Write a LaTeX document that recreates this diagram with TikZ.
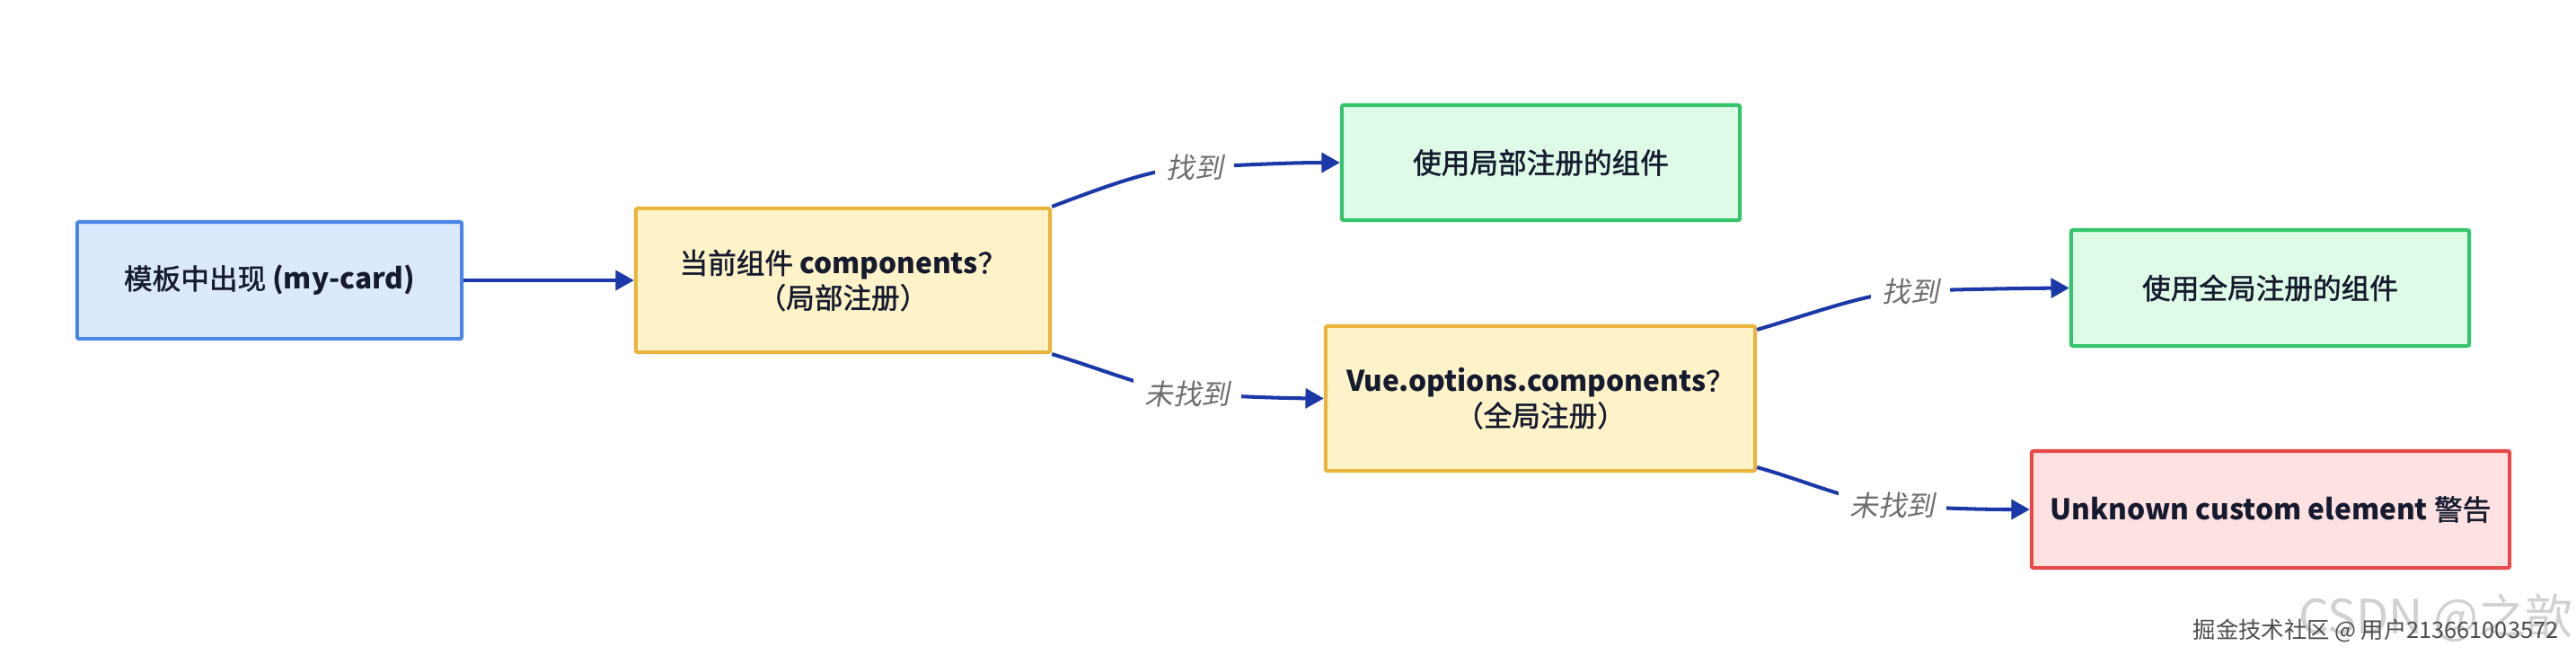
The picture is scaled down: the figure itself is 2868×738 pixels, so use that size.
\documentclass[tikz,border=0pt]{standalone}
\usepackage{fontspec}
\setmainfont{Noto Sans CJK SC}
\newfontfamily\cjk{Noto Sans CJK SC}[FakeBold=1.4]
\newfontfamily\lblfont{Noto Sans CJK SC}[FakeSlant=0.2]
\usetikzlibrary{arrows.meta}
\definecolor{txt}{HTML}{161A2E}
\definecolor{edge}{HTML}{1A38A8}
\definecolor{lblc}{HTML}{6E6E72}
\definecolor{blueB}{HTML}{4A86E8}
\definecolor{blueF}{HTML}{DCE9FD}
\definecolor{yelB}{HTML}{E8B43C}
\definecolor{yelF}{HTML}{FEF3C8}
\definecolor{grnB}{HTML}{34C46A}
\definecolor{grnF}{HTML}{DDFBE6}
\definecolor{redB}{HTML}{E84A4A}
\definecolor{redF}{HTML}{FEE1E1}
\tikzset{
  box/.style={draw, line width=1.15pt, rounded corners=0.6pt, align=center,
    text=txt, inner sep=0pt, font=\fontsize{9pt}{11pt}\selectfont},
  bluebox/.style={box, draw=blueB, fill=blueF},
  yelbox/.style={box, draw=yelB, fill=yelF},
  grnbox/.style={box, draw=grnB, fill=grnF},
  redbox/.style={box, draw=redB, fill=redF},
  conn/.style={draw=edge, line width=1.15pt, -{Triangle[length=5.8pt,width=6.2pt]}},
  elabel/.style={fill=white, text=lblc, inner xsep=3.6pt, inner ysep=1pt,
    font=\lblfont\fontsize{9pt}{10pt}\selectfont}
}
\begin{document}
\begin{tikzpicture}[x=0.01cm, y=-0.01cm]
\useasboundingbox[fill=white] (0,0) rectangle (2868,738);

\node[bluebox, minimum width=4.28cm, minimum height=1.30cm] (A) at (300,312)
  {{\cjk 模板中出现} \textbf{(my-card)}};
\node[yelbox, minimum width=4.61cm, minimum height=1.60cm] (B) at (938.5,312)
  {{\cjk 当前组件} \textbf{components}{\cjk ？}\\{\cjk （局部注册）}};
\node[grnbox, minimum width=4.43cm, minimum height=1.28cm] (C) at (1715.5,181)
  {{\cjk 使用局部注册的组件}};
\node[yelbox, minimum width=4.78cm, minimum height=1.61cm] (D) at (1715,443.5)
  {\textbf{Vue.options.components}{\cjk ？}\\{\cjk （全局注册）}};
\node[grnbox, minimum width=4.43cm, minimum height=1.29cm] (E) at (2527.5,320.5)
  {{\cjk 使用全局注册的组件}};
\node[redbox, minimum width=5.32cm, minimum height=1.30cm] (F) at (2528,567)
  {\textbf{Unknown custom element} {\cjk 警告}};

\coordinate (m1) at (1330,186);
\coordinate (m2) at (1322,438);
\coordinate (m3) at (2127,324);
\coordinate (m4) at (2107,562);

\draw[conn] (A.east) -- (B.west);
\draw[conn] (B.north east) .. controls (1250,200) and (1290,187) .. (m1)
  node[elabel] {找到}
  .. controls (1380,184) and (1430,181) .. (C.west);
\draw[conn] (B.south east) .. controls (1230,412) and (1280,433) .. (m2)
  node[elabel] {未找到}
  .. controls (1370,441) and (1420,443) .. (D.west);
\draw[conn] ([yshift=-0.06cm]D.north east) .. controls (2030,345) and (2080,326) .. (m3)
  node[elabel] {找到}
  .. controls (2180,322) and (2240,321) .. (E.west);
\draw[conn] ([yshift=0.06cm]D.south east) .. controls (2010,535) and (2060,558) .. (m4)
  node[elabel] {未找到}
  .. controls (2160,566) and (2210,567) .. (F.west);

\node[text=black!18, font=\fontsize{15pt}{15pt}\selectfont, anchor=center] (wm1) at (2712,688) {CSDN @之歆};
\node[text=black!70, font=\fontsize{7.2pt}{8pt}\selectfont, anchor=center] (wm2) at (2645,702) {掘金技术社区 @ 用户213661003572};
\end{tikzpicture}
\end{document}
